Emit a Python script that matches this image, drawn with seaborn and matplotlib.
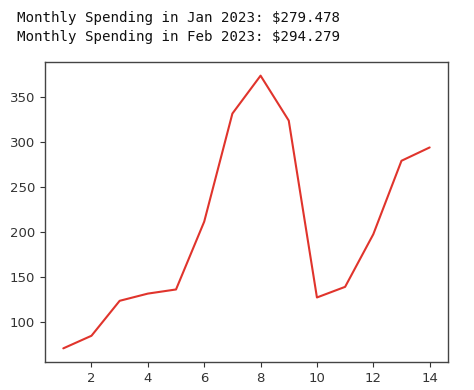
import matplotlib
matplotlib.use("Agg")
import matplotlib.pyplot as plt
import seaborn as sns
import pandas as pd

months = [1, 2, 3, 4, 5, 6, 7, 8, 9, 10, 11, 12, 13, 14]
spending = [71.2, 85.2, 124.0, 132.0, 136.6, 211.9, 331.9, 374.0, 324.1,
            127.7, 139.5, 197.9, 279.478, 294.279]
labels = ["Monthly Spending in Jan 2023: $279.478",
          "Monthly Spending in Feb 2023: $294.279"]

df = pd.DataFrame({"month": months, "spending": spending})

sns.set_style("ticks")
plt.rcParams["font.family"] = ["DejaVu Sans"]

fig = plt.figure(figsize=(4.74, 3.9), dpi=100)
ax = fig.add_axes([0.0949, 0.0718, 0.8502, 0.7692])
sns.lineplot(data=df, x="month", y="spending", color="#e0342c", linewidth=1.5, ax=ax)
ax.set_xlabel("")
ax.set_ylabel("")
ax.set_xticks([2, 4, 6, 8, 10, 12, 14])
ax.set_yticks([100, 150, 200, 250, 300, 350])
for s in ax.spines.values():
    s.set_color("#444444")
    s.set_linewidth(1.0)
ax.tick_params(colors="#333333", labelsize=9.5, length=3.5)

for i, t in enumerate(labels):
    fig.text(17 / 474, 1 - (18 + 19 * i) / 390, t, family="DejaVu Sans Mono",
             fontsize=10.2, va="center", ha="left", color="#111111")

fig.savefig("out.png", dpi=100)
